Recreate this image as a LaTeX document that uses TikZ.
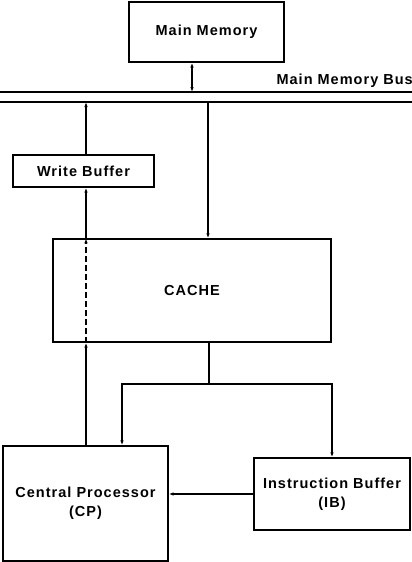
\documentclass[tikz,border=0pt]{standalone}
\usepackage{fontspec}
\setmainfont{Liberation Sans}[LetterSpace=7]
\usetikzlibrary{arrows.meta,positioning,calc}

\begin{document}
\begin{tikzpicture}[x=1pt, y=-1pt,
                unit/.style={rectangle, draw, line width=1.4pt, text centered, align=center, font=\fontsize{14.5}{19}\selectfont\bfseries},
                flow/.style={draw, line width=1.1pt, -{Latex[length=5pt,width=3.5pt]}},
                double_flow/.style={draw, line width=1.1pt, {Latex[length=5pt,width=3.5pt]}-{Latex[length=5pt,width=3.5pt]}},
                bus/.style={draw, line width=1.4pt}
            ]

            \useasboundingbox (0,0) rectangle (412,562);

            % boxes
            \node (mainmem) at (206.5,32) [unit, minimum width=155pt, minimum height=60pt] {Main Memory};
            \node (wbuf) at (83.5,171) [unit, minimum width=141pt, minimum height=32pt] {Write Buffer};
            \node (cache) at (192,290.5) [unit, minimum width=278pt, minimum height=103pt] {CACHE};
            \node (cp) at (85.5,503.5) [unit, minimum width=165pt, minimum height=115pt] {Central Processor \\ (CP)};
            \node (ib) at (332,494) [unit, minimum width=156pt, minimum height=72pt] {Instruction Buffer \\ (IB)};

            % bus
            \draw[bus] (0,92) -- (412,92);
            \draw[bus] (0,102) -- (412,102);
            \node (buslabel) at (414,89) [anchor=south east, inner sep=1pt, font=\fontsize{14.5}{19}\selectfont\bfseries] {Main Memory Bus};

            \coordinate (busA) at (192,92);
            \coordinate (busB) at (208,102);
            \coordinate (busC) at (86,102);
            \coordinate (split) at (209,384);

            % connections
            \path[double_flow] (mainmem.south -| busA) -- (busA);
            \path[flow] (busB) -- (busB |- cache.north);
            \path[flow] (wbuf.north -| busC) -- (busC);
            \path[flow] (cache.north -| busC) -- (wbuf.south -| busC);
            \path[flow, dash pattern=on 6pt off 3pt] (cache.south -| busC) -- (cache.north -| busC);
            \path[flow] (cp.north -| busC) -- (cache.south -| busC);
            \draw[line width=1.1pt] (cache.south -| split) -- (split);
            \path[flow] (split) -| (ib.north);
            \path[flow] (split) -| ($(cp.north)+(36.5,0)$);
            \path[flow] (ib.west) -- (ib.west -| cp.east);
        \end{tikzpicture}
\end{document}
